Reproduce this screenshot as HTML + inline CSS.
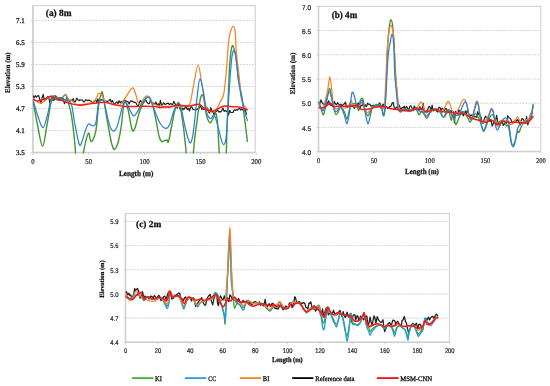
<!DOCTYPE html><html><head><meta charset="utf-8"><style>html,body{margin:0;padding:0;background:#fff;}svg{display:block;will-change:transform;}text{text-rendering:geometricPrecision;}</style></head><body>
<svg width="550" height="386" viewBox="0 0 550 386">
<rect width="550" height="386" fill="#fff"/>
<defs>
<clipPath id="ca"><rect x="32.9" y="5.6" width="222.3" height="148.0"/></clipPath>
</defs>
<rect x="32.9" y="5.6" width="222.3" height="147.0" fill="none" stroke="#d4d4d4" stroke-width="1.2"/>
<line x1="32.9" y1="20.4" x2="255.2" y2="20.4" stroke="#d0d0d0" stroke-width="1" stroke-dasharray="1.8 1.2"/>
<line x1="32.9" y1="42.4" x2="255.2" y2="42.4" stroke="#d0d0d0" stroke-width="1" stroke-dasharray="1.8 1.2"/>
<line x1="32.9" y1="64.5" x2="255.2" y2="64.5" stroke="#d0d0d0" stroke-width="1" stroke-dasharray="1.8 1.2"/>
<line x1="32.9" y1="86.5" x2="255.2" y2="86.5" stroke="#d0d0d0" stroke-width="1" stroke-dasharray="1.8 1.2"/>
<line x1="32.9" y1="108.5" x2="255.2" y2="108.5" stroke="#d0d0d0" stroke-width="1" stroke-dasharray="1.8 1.2"/>
<line x1="32.9" y1="130.6" x2="255.2" y2="130.6" stroke="#d0d0d0" stroke-width="1" stroke-dasharray="1.8 1.2"/>
<line x1="30.8" y1="20.4" x2="32.9" y2="20.4" stroke="#cfcfcf" stroke-width="1"/>
<text x="16.1" y="22.9" font-family="Liberation Serif, serif" font-size="7.30" textLength="8.8" lengthAdjust="spacingAndGlyphs" fill="#1a1a1a" stroke="#1a1a1a" stroke-width="0.30">7.1</text>
<line x1="30.8" y1="42.4" x2="32.9" y2="42.4" stroke="#cfcfcf" stroke-width="1"/>
<text x="16.1" y="45.0" font-family="Liberation Serif, serif" font-size="7.30" textLength="8.8" lengthAdjust="spacingAndGlyphs" fill="#1a1a1a" stroke="#1a1a1a" stroke-width="0.30">6.5</text>
<line x1="30.8" y1="64.5" x2="32.9" y2="64.5" stroke="#cfcfcf" stroke-width="1"/>
<text x="16.1" y="67.0" font-family="Liberation Serif, serif" font-size="7.30" textLength="8.8" lengthAdjust="spacingAndGlyphs" fill="#1a1a1a" stroke="#1a1a1a" stroke-width="0.30">5.9</text>
<line x1="30.8" y1="86.5" x2="32.9" y2="86.5" stroke="#cfcfcf" stroke-width="1"/>
<text x="16.1" y="89.0" font-family="Liberation Serif, serif" font-size="7.30" textLength="8.8" lengthAdjust="spacingAndGlyphs" fill="#1a1a1a" stroke="#1a1a1a" stroke-width="0.30">5.3</text>
<line x1="30.8" y1="108.5" x2="32.9" y2="108.5" stroke="#cfcfcf" stroke-width="1"/>
<text x="16.1" y="111.1" font-family="Liberation Serif, serif" font-size="7.30" textLength="8.8" lengthAdjust="spacingAndGlyphs" fill="#1a1a1a" stroke="#1a1a1a" stroke-width="0.30">4.7</text>
<line x1="30.8" y1="130.6" x2="32.9" y2="130.6" stroke="#cfcfcf" stroke-width="1"/>
<text x="16.1" y="133.1" font-family="Liberation Serif, serif" font-size="7.30" textLength="8.8" lengthAdjust="spacingAndGlyphs" fill="#1a1a1a" stroke="#1a1a1a" stroke-width="0.30">4.1</text>
<line x1="30.8" y1="152.6" x2="32.9" y2="152.6" stroke="#cfcfcf" stroke-width="1"/>
<text x="16.1" y="155.1" font-family="Liberation Serif, serif" font-size="7.30" textLength="8.8" lengthAdjust="spacingAndGlyphs" fill="#1a1a1a" stroke="#1a1a1a" stroke-width="0.30">3.5</text>
<line x1="32.9" y1="152.6" x2="32.9" y2="154.6" stroke="#cfcfcf" stroke-width="1"/>
<text x="31.2" y="163.6" font-family="Liberation Serif, serif" font-size="7.40" textLength="3.4" lengthAdjust="spacingAndGlyphs" fill="#1a1a1a" stroke="#1a1a1a" stroke-width="0.20">0</text>
<line x1="88.8" y1="152.6" x2="88.8" y2="154.6" stroke="#cfcfcf" stroke-width="1"/>
<text x="85.3" y="163.6" font-family="Liberation Serif, serif" font-size="7.40" textLength="6.8" lengthAdjust="spacingAndGlyphs" fill="#1a1a1a" stroke="#1a1a1a" stroke-width="0.20">50</text>
<line x1="144.6" y1="152.6" x2="144.6" y2="154.6" stroke="#cfcfcf" stroke-width="1"/>
<text x="139.5" y="163.6" font-family="Liberation Serif, serif" font-size="7.40" textLength="10.2" lengthAdjust="spacingAndGlyphs" fill="#1a1a1a" stroke="#1a1a1a" stroke-width="0.20">100</text>
<line x1="200.5" y1="152.6" x2="200.5" y2="154.6" stroke="#cfcfcf" stroke-width="1"/>
<text x="195.4" y="163.6" font-family="Liberation Serif, serif" font-size="7.40" textLength="10.2" lengthAdjust="spacingAndGlyphs" fill="#1a1a1a" stroke="#1a1a1a" stroke-width="0.20">150</text>
<line x1="256.3" y1="152.6" x2="256.3" y2="154.6" stroke="#cfcfcf" stroke-width="1"/>
<text x="251.2" y="163.6" font-family="Liberation Serif, serif" font-size="7.40" textLength="10.2" lengthAdjust="spacingAndGlyphs" fill="#1a1a1a" stroke="#1a1a1a" stroke-width="0.20">200</text>
<line x1="32.9" y1="5.6" x2="32.9" y2="152.6" stroke="#cfcfcf" stroke-width="1.5"/>
<line x1="32.9" y1="152.6" x2="255.2" y2="152.6" stroke="#cfcfcf" stroke-width="1.5"/>
<text x="119.0" y="176.4" font-family="Liberation Serif, serif" font-size="7.80" font-weight="bold" textLength="34.4" lengthAdjust="spacingAndGlyphs" fill="#111" stroke="#111" stroke-width="0.25">Length (m)</text>
<text transform="translate(9.5 92.9) rotate(-90)" x="0" y="0" font-family="Liberation Serif, serif" font-size="7.30" font-weight="bold" textLength="40.5" lengthAdjust="spacingAndGlyphs" fill="#111" stroke="#111" stroke-width="0.20">Elevation (m)</text>
<text x="45.8" y="16.0" font-family="Liberation Serif, serif" font-size="9.60" font-weight="bold" textLength="25.8" lengthAdjust="spacingAndGlyphs" fill="#0d0d0d" stroke="#0d0d0d" stroke-width="0.25">(a) 8m</text>
<path d="M33.1 95.7 L34.2 97.8 L35.3 95.7 L36.5 97.2 L37.6 95.9 L38.7 95.6 L39.8 99.8 L40.9 103.3 L42.0 98.0 L43.2 94.4 L44.3 100.4 L45.4 99.8 L46.5 99.0 L47.6 96.8 L48.7 97.1 L49.9 103.3 L51.0 99.0 L52.1 97.3 L53.2 100.5 L54.3 99.9 L55.4 95.9 L56.6 97.0 L57.7 99.6 L58.8 99.2 L59.9 97.7 L61.0 98.0 L62.1 98.4 L63.3 98.9 L64.4 103.6 L65.5 101.6 L66.6 98.0 L67.7 98.2 L68.8 100.4 L70.0 101.0 L71.1 99.9 L72.2 100.6 L73.3 98.6 L74.4 102.2 L75.5 101.4 L76.7 98.2 L77.8 99.6 L78.9 100.7 L80.0 99.7 L81.1 100.2 L82.2 99.8 L83.4 101.7 L84.5 101.8 L85.6 99.7 L86.7 100.1 L87.8 100.6 L89.0 100.0 L90.1 100.8 L91.2 101.2 L92.3 103.6 L93.4 102.4 L94.5 100.7 L95.7 100.0 L96.8 102.7 L97.9 98.9 L99.0 101.9 L100.1 100.0 L101.2 99.7 L102.4 100.1 L103.5 99.7 L104.6 101.5 L105.7 101.1 L106.8 101.4 L107.9 101.3 L109.1 100.7 L110.2 99.1 L111.3 102.2 L112.4 100.6 L113.5 103.1 L114.6 104.6 L115.8 102.7 L116.9 101.8 L118.0 103.7 L119.1 100.7 L120.2 102.8 L121.3 101.4 L122.5 102.9 L123.6 101.1 L124.7 100.0 L125.8 100.8 L126.9 101.5 L128.0 101.7 L129.2 104.0 L130.3 101.1 L131.4 100.8 L132.5 101.4 L133.6 102.3 L134.7 102.2 L135.9 102.8 L137.0 105.0 L138.1 106.4 L139.2 103.0 L140.3 100.4 L141.4 102.1 L142.6 101.6 L143.7 102.6 L144.8 100.9 L145.9 100.3 L147.0 102.4 L148.2 103.6 L149.3 103.7 L150.4 100.4 L151.5 102.0 L152.6 103.4 L153.7 103.2 L154.9 104.4 L156.0 102.0 L157.1 105.3 L158.2 103.8 L159.3 106.3 L160.4 100.4 L161.6 105.3 L162.7 104.2 L163.8 102.7 L164.9 104.5 L166.0 104.1 L167.1 103.3 L168.3 103.1 L169.4 104.7 L170.5 103.6 L171.6 104.1 L172.7 104.6 L173.8 101.4 L175.0 103.5 L176.1 106.5 L177.2 108.2 L178.3 103.6 L179.4 107.2 L180.5 110.1 L181.7 110.2 L182.8 108.1 L183.9 109.6 L185.0 107.6 L186.1 106.6 L187.2 109.5 L188.4 108.2 L189.5 110.9 L190.6 107.5 L191.7 106.8 L192.8 109.2 L193.9 109.6 L195.1 109.8 L196.2 109.7 L197.3 108.9 L198.4 109.1 L199.5 107.0 L200.6 105.8 L201.8 109.4 L202.9 108.7 L204.0 109.7 L205.1 107.2 L206.2 109.2 L207.4 107.9 L208.5 111.8 L209.6 113.0 L210.7 107.7 L211.8 110.4 L212.9 112.2 L214.1 114.7 L215.2 112.0 L216.3 111.4 L217.4 108.9 L218.5 112.0 L219.6 111.6 L220.8 111.9 L221.9 110.4 L223.0 108.1 L224.1 111.3 L225.2 110.5 L226.3 111.6 L227.5 110.5 L228.6 115.2 L229.7 110.4 L230.8 112.5 L231.9 112.5 L233.0 112.5 L234.2 109.7 L235.3 110.4 L236.4 109.7 L237.5 110.1 L238.6 109.0 L239.7 108.4 L240.9 110.1 L242.0 108.8 L243.1 110.2 L244.2 108.5 L245.3 109.8 L246.4 114.1" fill="none" stroke="#222" stroke-width="1.20" stroke-linejoin="round" stroke-linecap="round" clip-path="url(#ca)"/>
<path d="M33.1 101.0 C33.8 105.0 35.9 117.4 37.5 125.0 C39.1 132.6 41.0 146.4 42.6 146.4 C44.2 146.4 45.6 132.1 47.0 125.0 C48.4 117.9 49.7 108.0 50.8 103.6 C51.9 99.2 52.5 99.1 53.4 98.4 C54.3 97.7 54.8 99.0 56.0 99.3 C57.2 99.6 58.8 101.0 60.4 100.2 C62.0 99.4 64.2 94.0 65.6 94.7 C67.0 95.5 68.0 101.5 68.9 104.7 C69.8 107.9 70.4 109.6 71.2 114.0 C72.0 118.4 72.9 125.6 73.6 131.1 C74.2 136.5 74.6 141.9 75.1 146.7 C75.6 151.5 75.3 157.8 76.5 160.0 C77.7 162.2 81.1 161.2 82.3 160.0 C83.5 158.8 82.9 155.6 83.4 152.9 C83.9 150.2 84.5 146.6 85.2 143.6 C85.9 140.6 86.9 136.7 87.6 135.0 C88.2 133.3 88.6 132.5 89.1 133.5 C89.6 134.5 90.0 140.2 90.7 141.2 C91.4 142.2 92.2 141.1 93.0 139.7 C93.8 138.3 94.8 135.4 95.4 132.7 C96.1 130.0 96.4 127.7 96.9 123.3 C97.4 118.9 97.8 111.2 98.5 106.2 C99.2 101.2 100.5 95.1 101.3 93.2 C102.0 91.3 102.1 90.9 103.0 95.0 C103.9 99.1 105.6 111.3 106.7 117.6 C107.8 123.9 108.7 128.7 109.5 133.0 C110.3 137.3 111.0 141.0 111.6 143.4 C112.2 145.8 112.5 146.6 113.0 147.6 C113.5 148.6 113.7 149.6 114.3 149.5 C114.9 149.4 115.8 148.3 116.5 146.8 C117.2 145.3 117.8 143.8 118.6 140.5 C119.4 137.2 120.4 132.3 121.2 126.7 C122.0 121.1 122.8 111.0 123.4 107.0 C124.0 103.0 124.2 103.3 124.6 102.5 C125.0 101.7 125.1 100.4 125.8 102.0 C126.5 103.6 127.9 108.8 128.6 112.0 C129.3 115.2 129.7 118.2 130.2 121.0 C130.7 123.8 131.3 126.8 131.8 128.5 C132.3 130.2 132.4 131.5 133.0 131.2 C133.6 130.9 134.2 130.2 135.4 126.7 C136.6 123.2 138.2 114.9 139.9 110.4 C141.6 105.9 143.9 101.8 145.4 99.5 C146.9 97.2 147.8 95.9 149.0 96.8 C150.2 97.7 151.4 100.8 152.6 104.9 C153.8 109.0 155.1 116.1 156.2 121.2 C157.2 126.3 158.0 132.3 158.9 135.7 C159.8 139.1 160.8 140.8 161.6 141.6 C162.4 142.4 163.0 141.1 163.9 140.8 C164.8 140.5 166.2 139.9 167.0 140.0 C167.8 140.1 167.7 143.9 168.5 141.6 C169.3 139.3 170.5 131.2 171.6 126.0 C172.7 120.8 173.8 114.4 174.8 110.5 C175.9 106.6 177.0 103.5 177.9 102.8 C178.8 102.1 179.3 102.7 180.2 106.6 C181.1 110.5 182.4 119.4 183.3 126.0 C184.2 132.6 184.9 140.5 185.6 146.2 C186.2 151.9 186.1 157.7 187.2 160.0 C188.3 162.3 190.9 163.8 192.2 160.0 C193.5 156.2 193.9 144.6 194.9 136.9 C195.9 129.2 197.1 120.1 198.0 113.6 C198.9 107.1 199.8 101.1 200.6 98.0 C201.4 94.9 202.1 94.1 202.8 95.0 C203.5 95.9 203.9 99.8 204.6 103.4 C205.3 107.1 205.9 113.7 206.9 116.9 C207.9 120.1 209.2 122.7 210.3 122.8 C211.4 122.9 212.5 119.2 213.4 117.7 C214.3 116.2 215.3 112.5 216.0 113.5 C216.7 114.5 217.0 116.7 217.6 123.6 C218.2 130.5 218.9 148.6 219.3 155.0 C219.8 161.4 219.3 160.8 220.3 162.0 C221.3 163.2 224.2 163.2 225.2 162.0 C226.2 160.8 225.9 161.4 226.2 155.0 C226.5 148.6 226.8 136.1 227.2 123.6 C227.6 111.1 228.4 91.1 228.9 80.0 C229.4 68.9 229.7 62.8 230.3 57.1 C230.9 51.4 231.6 46.2 232.4 45.6 C233.2 45.0 234.5 50.4 235.3 53.7 C236.1 57.0 236.4 61.1 237.0 65.5 C237.6 69.9 237.8 74.3 238.7 80.0 C239.6 85.7 241.4 93.7 242.3 99.8 C243.2 105.9 243.6 110.9 244.3 116.4 C245.0 121.9 245.9 128.8 246.4 133.0 C246.9 137.2 247.2 139.9 247.4 141.3" fill="none" stroke="#43952d" stroke-width="1.40" stroke-linejoin="round" stroke-linecap="round" clip-path="url(#ca)"/>
<path d="M33.1 98.6 C33.8 99.1 36.0 101.0 37.3 101.8 C38.6 102.6 39.7 103.3 40.9 103.2 C42.1 103.1 42.8 102.1 44.5 100.9 C46.2 99.7 49.4 96.6 50.9 95.9 C52.4 95.2 52.1 96.2 53.6 96.8 C55.1 97.4 57.6 99.0 60.0 99.5 C62.4 100.0 66.1 99.2 68.2 99.5 C70.3 99.8 71.2 100.6 72.7 101.4 C74.2 102.2 75.2 104.1 77.3 104.5 C79.3 104.9 82.4 104.4 85.0 104.0 C87.6 103.6 91.0 103.0 93.0 102.0 C95.0 101.0 95.8 99.2 96.7 97.7 C97.6 96.2 97.7 93.5 98.6 93.2 C99.5 92.9 101.2 94.6 102.2 95.9 C103.2 97.2 103.6 100.0 104.9 101.3 C106.2 102.6 108.3 103.0 110.0 103.5 C111.7 104.0 113.3 104.3 115.0 104.5 C116.7 104.7 118.3 106.0 120.0 104.9 C121.7 103.8 123.4 100.5 125.4 97.7 C127.4 94.9 130.3 89.5 131.8 88.3 C133.3 87.1 133.4 88.1 134.5 90.4 C135.6 92.7 137.0 99.9 138.1 102.2 C139.2 104.5 139.7 104.8 140.8 104.0 C141.9 103.2 143.4 99.0 144.5 97.7 C145.6 96.4 146.3 95.8 147.2 95.9 C148.1 96.1 148.8 97.2 149.9 98.6 C151.0 99.9 151.8 102.8 153.5 104.0 C155.2 105.2 157.2 105.6 160.0 106.0 C162.8 106.4 166.7 106.3 170.0 106.4 C173.3 106.5 177.3 106.7 180.0 106.5 C182.7 106.3 184.3 106.0 186.0 105.5 C187.7 105.0 188.7 106.8 190.0 103.4 C191.3 100.0 192.2 91.7 193.6 85.3 C194.9 78.9 196.7 65.1 198.1 65.1 C199.5 65.1 200.9 78.9 202.1 85.3 C203.3 91.7 204.5 99.5 205.3 103.4 C206.1 107.3 206.3 107.5 207.1 108.9 C207.9 110.3 209.0 111.3 210.1 111.8 C211.2 112.3 212.3 112.2 213.4 111.8 C214.5 111.4 215.7 111.0 216.8 109.3 C217.9 107.6 219.1 104.2 220.2 101.8 C221.3 99.4 222.6 98.6 223.5 95.0 C224.4 91.4 224.9 85.2 225.5 80.0 C226.1 74.8 226.4 70.1 226.9 63.8 C227.4 57.4 228.0 47.2 228.6 41.9 C229.2 36.6 229.5 34.9 230.3 32.2 C231.1 29.6 232.5 26.0 233.3 26.0 C234.1 26.0 234.7 28.4 235.2 32.2 C235.7 36.0 235.7 43.2 236.1 48.7 C236.5 54.2 237.2 60.3 237.8 65.5 C238.4 70.7 238.9 74.6 239.5 80.0 C240.1 85.4 240.4 93.5 241.2 97.8 C242.0 102.1 243.4 104.3 244.3 106.0 C245.2 107.7 246.1 107.7 246.4 108.0" fill="none" stroke="#f4822a" stroke-width="1.25" stroke-linejoin="round" stroke-linecap="round" clip-path="url(#ca)"/>
<path d="M33.1 100.2 C33.8 102.7 35.9 110.4 37.5 115.0 C39.1 119.6 41.2 127.3 42.8 127.6 C44.4 127.9 45.7 121.6 47.0 117.0 C48.3 112.4 49.7 103.7 50.8 100.2 C51.9 96.7 52.9 96.4 53.8 95.8 C54.7 95.2 55.2 96.1 56.4 96.7 C57.6 97.3 59.2 98.7 61.2 99.3 C63.2 99.9 66.5 99.2 68.2 100.2 C70.0 101.2 70.7 101.8 71.7 105.4 C72.8 109.0 73.2 115.5 74.5 122.0 C75.8 128.5 78.0 141.2 79.3 144.4 C80.6 147.6 81.1 143.4 82.1 141.2 C83.1 139.0 84.2 133.9 85.2 131.1 C86.2 128.2 87.4 125.1 88.3 124.1 C89.2 123.1 89.8 124.6 90.7 124.9 C91.6 125.2 92.9 126.2 93.8 125.7 C94.7 125.2 95.3 125.6 96.1 121.8 C96.9 118.0 97.7 106.6 98.6 103.1 C99.5 99.6 100.4 101.1 101.3 100.9 C102.2 100.8 102.8 98.8 104.0 102.2 C105.2 105.6 107.2 116.5 108.5 121.2 C109.8 125.9 110.7 129.2 112.1 130.3 C113.5 131.4 114.9 131.8 116.7 127.6 C118.5 123.4 121.4 109.0 123.0 104.9 C124.6 100.8 125.1 102.2 126.3 103.1 C127.5 104.0 128.8 108.3 130.0 110.4 C131.2 112.5 132.4 115.5 133.6 115.8 C134.8 116.1 135.7 114.5 137.2 112.2 C138.7 109.9 140.9 104.7 142.6 102.2 C144.3 99.7 146.0 97.8 147.2 97.3 C148.4 96.8 148.7 96.5 150.0 99.0 C151.3 101.5 153.7 108.2 155.3 112.2 C157.0 116.2 158.2 120.3 159.9 123.0 C161.6 125.7 163.8 128.0 165.4 128.4 C167.0 128.8 167.9 128.3 169.3 125.3 C170.7 122.3 172.6 114.1 174.0 110.5 C175.4 106.9 176.7 104.0 177.9 103.5 C179.1 103.0 179.8 103.7 181.0 107.4 C182.2 111.2 183.4 120.2 184.8 126.0 C186.2 131.8 188.2 140.6 189.5 142.4 C190.8 144.2 191.7 140.9 192.6 136.9 C193.5 132.9 194.1 125.1 194.9 118.3 C195.7 111.5 196.4 102.8 197.2 96.2 C198.0 89.7 198.8 79.6 199.9 79.0 C201.0 78.4 202.6 88.0 203.5 92.6 C204.4 97.2 204.7 103.0 205.4 106.8 C206.1 110.6 206.7 113.2 207.6 115.2 C208.5 117.2 209.8 118.6 210.9 118.6 C212.0 118.6 213.0 113.5 214.3 115.2 C215.6 116.9 217.4 124.8 218.5 128.7 C219.6 132.6 220.2 136.0 221.0 138.7 C221.8 141.3 222.7 144.6 223.5 144.6 C224.3 144.6 225.3 143.6 226.0 138.7 C226.7 133.8 227.0 125.0 227.7 115.2 C228.3 105.4 229.2 89.7 229.9 80.0 C230.6 70.3 231.2 62.0 231.9 57.1 C232.6 52.2 233.3 50.1 234.0 50.4 C234.7 50.7 235.4 53.9 236.1 58.8 C236.8 63.7 237.5 73.8 238.3 80.0 C239.2 86.2 240.2 90.7 241.2 95.7 C242.2 100.7 243.3 106.1 244.3 110.2 C245.3 114.3 246.9 118.8 247.4 120.5" fill="none" stroke="#2f7fd6" stroke-width="1.25" stroke-linejoin="round" stroke-linecap="round" clip-path="url(#ca)"/>
<path d="M33.2 99.5 C33.9 99.7 35.9 100.8 37.3 100.9 C38.7 101.0 40.3 100.5 41.8 100.0 C43.3 99.5 45.0 98.8 46.4 98.2 C47.8 97.6 48.8 96.8 50.0 96.6 C51.2 96.4 52.1 96.8 53.6 97.3 C55.1 97.8 57.0 98.7 59.1 99.5 C61.2 100.3 64.1 101.5 66.4 102.3 C68.7 103.1 70.4 103.6 72.7 104.1 C75.0 104.6 77.8 105.1 80.0 105.2 C82.2 105.3 83.8 104.9 86.0 104.6 C88.2 104.3 89.9 103.8 93.1 103.4 C96.2 103.0 101.3 102.2 104.9 102.4 C108.5 102.7 111.6 104.2 114.9 104.9 C118.2 105.6 121.7 106.2 125.0 106.5 C128.3 106.8 131.7 106.4 135.0 106.4 C138.3 106.4 141.7 106.3 145.0 106.3 C148.3 106.3 152.7 106.4 155.0 106.6 C157.3 106.8 157.3 107.3 159.0 107.4 C160.7 107.5 163.2 107.0 165.0 107.0 C166.8 107.0 167.8 107.4 170.0 107.1 C172.2 106.8 174.9 105.1 177.9 104.9 C180.9 104.8 184.5 106.3 188.0 106.2 C191.5 106.1 196.0 103.8 198.8 104.3 C201.6 104.8 203.1 107.9 205.0 109.0 C206.9 110.1 208.6 110.4 210.0 110.7 C211.4 111.0 211.7 111.5 213.4 111.0 C215.1 110.5 218.2 108.4 220.2 107.6 C222.2 106.8 223.0 106.1 225.2 106.0 C227.4 105.9 231.1 106.6 233.6 106.8 C236.1 107.0 237.9 106.6 240.2 107.1 C242.5 107.6 246.2 109.3 247.4 109.8" fill="none" stroke="#f01a1a" stroke-width="1.45" stroke-linejoin="round" stroke-linecap="round" clip-path="url(#ca)"/>
<rect x="318.5" y="6.4" width="222.2" height="145.2" fill="none" stroke="#d4d4d4" stroke-width="1.1"/>
<line x1="318.5" y1="30.6" x2="540.7" y2="30.6" stroke="#d0d0d0" stroke-width="1" stroke-dasharray="1.8 1.2"/>
<line x1="318.5" y1="54.8" x2="540.7" y2="54.8" stroke="#d0d0d0" stroke-width="1" stroke-dasharray="1.8 1.2"/>
<line x1="318.5" y1="79.0" x2="540.7" y2="79.0" stroke="#d0d0d0" stroke-width="1" stroke-dasharray="1.8 1.2"/>
<line x1="318.5" y1="103.2" x2="540.7" y2="103.2" stroke="#d0d0d0" stroke-width="1" stroke-dasharray="1.8 1.2"/>
<line x1="318.5" y1="127.4" x2="540.7" y2="127.4" stroke="#d0d0d0" stroke-width="1" stroke-dasharray="1.8 1.2"/>
<line x1="316.4" y1="6.4" x2="318.5" y2="6.4" stroke="#cfcfcf" stroke-width="1"/>
<text x="302.0" y="9.6" font-family="Liberation Sans, sans-serif" font-size="6.90" textLength="9.1" lengthAdjust="spacingAndGlyphs" fill="#222" stroke="#222" stroke-width="0.20">7.0</text>
<line x1="316.4" y1="30.6" x2="318.5" y2="30.6" stroke="#cfcfcf" stroke-width="1"/>
<text x="302.0" y="33.8" font-family="Liberation Sans, sans-serif" font-size="6.90" textLength="9.1" lengthAdjust="spacingAndGlyphs" fill="#222" stroke="#222" stroke-width="0.20">6.5</text>
<line x1="316.4" y1="54.8" x2="318.5" y2="54.8" stroke="#cfcfcf" stroke-width="1"/>
<text x="302.0" y="58.0" font-family="Liberation Sans, sans-serif" font-size="6.90" textLength="9.1" lengthAdjust="spacingAndGlyphs" fill="#222" stroke="#222" stroke-width="0.20">6.0</text>
<line x1="316.4" y1="79.0" x2="318.5" y2="79.0" stroke="#cfcfcf" stroke-width="1"/>
<text x="302.0" y="82.2" font-family="Liberation Sans, sans-serif" font-size="6.90" textLength="9.1" lengthAdjust="spacingAndGlyphs" fill="#222" stroke="#222" stroke-width="0.20">5.5</text>
<line x1="316.4" y1="103.2" x2="318.5" y2="103.2" stroke="#cfcfcf" stroke-width="1"/>
<text x="302.0" y="106.4" font-family="Liberation Sans, sans-serif" font-size="6.90" textLength="9.1" lengthAdjust="spacingAndGlyphs" fill="#222" stroke="#222" stroke-width="0.20">5.0</text>
<line x1="316.4" y1="127.4" x2="318.5" y2="127.4" stroke="#cfcfcf" stroke-width="1"/>
<text x="302.0" y="130.6" font-family="Liberation Sans, sans-serif" font-size="6.90" textLength="9.1" lengthAdjust="spacingAndGlyphs" fill="#222" stroke="#222" stroke-width="0.20">4.5</text>
<line x1="316.4" y1="151.6" x2="318.5" y2="151.6" stroke="#cfcfcf" stroke-width="1"/>
<text x="302.0" y="154.8" font-family="Liberation Sans, sans-serif" font-size="6.90" textLength="9.1" lengthAdjust="spacingAndGlyphs" fill="#222" stroke="#222" stroke-width="0.20">4.0</text>
<line x1="318.5" y1="151.6" x2="318.5" y2="153.6" stroke="#cfcfcf" stroke-width="1"/>
<text x="316.9" y="162.6" font-family="Liberation Serif, serif" font-size="7.30" textLength="3.3" lengthAdjust="spacingAndGlyphs" fill="#1a1a1a" stroke="#1a1a1a" stroke-width="0.20">0</text>
<line x1="374.1" y1="151.6" x2="374.1" y2="153.6" stroke="#cfcfcf" stroke-width="1"/>
<text x="370.8" y="162.6" font-family="Liberation Serif, serif" font-size="7.30" textLength="6.6" lengthAdjust="spacingAndGlyphs" fill="#1a1a1a" stroke="#1a1a1a" stroke-width="0.20">50</text>
<line x1="429.7" y1="151.6" x2="429.7" y2="153.6" stroke="#cfcfcf" stroke-width="1"/>
<text x="424.8" y="162.6" font-family="Liberation Serif, serif" font-size="7.30" textLength="9.9" lengthAdjust="spacingAndGlyphs" fill="#1a1a1a" stroke="#1a1a1a" stroke-width="0.20">100</text>
<line x1="485.3" y1="151.6" x2="485.3" y2="153.6" stroke="#cfcfcf" stroke-width="1"/>
<text x="480.4" y="162.6" font-family="Liberation Serif, serif" font-size="7.30" textLength="9.9" lengthAdjust="spacingAndGlyphs" fill="#1a1a1a" stroke="#1a1a1a" stroke-width="0.20">150</text>
<line x1="540.9" y1="151.6" x2="540.9" y2="153.6" stroke="#cfcfcf" stroke-width="1"/>
<text x="536.0" y="162.6" font-family="Liberation Serif, serif" font-size="7.30" textLength="9.9" lengthAdjust="spacingAndGlyphs" fill="#1a1a1a" stroke="#1a1a1a" stroke-width="0.20">200</text>
<line x1="318.5" y1="6.4" x2="318.5" y2="151.6" stroke="#cfcfcf" stroke-width="1.5"/>
<line x1="318.5" y1="151.6" x2="540.7" y2="151.6" stroke="#cfcfcf" stroke-width="1.5"/>
<text x="405.0" y="173.6" font-family="Liberation Serif, serif" font-size="7.80" font-weight="bold" textLength="33.9" lengthAdjust="spacingAndGlyphs" fill="#111" stroke="#111" stroke-width="0.25">Length (m)</text>
<text transform="translate(295.0 94.3) rotate(-90)" x="0" y="0" font-family="Liberation Serif, serif" font-size="7.30" font-weight="bold" textLength="41.8" lengthAdjust="spacingAndGlyphs" fill="#111" stroke="#111" stroke-width="0.20">Elevation (m)</text>
<text x="331.7" y="17.5" font-family="Liberation Serif, serif" font-size="9.60" font-weight="bold" textLength="25.6" lengthAdjust="spacingAndGlyphs" fill="#0d0d0d" stroke="#0d0d0d" stroke-width="0.25">(b) 4m</text>
<defs><clipPath id="cb"><rect x="318.5" y="6.4" width="222.2" height="146.2"/></clipPath></defs>
<path d="M318.7 102.6 L319.8 103.9 L320.9 99.8 L322.0 102.4 L323.1 104.1 L324.3 104.2 L325.4 104.8 L326.5 105.1 L327.6 102.8 L328.7 100.8 L329.8 104.3 L330.9 105.2 L332.0 105.6 L333.2 106.8 L334.3 101.6 L335.4 103.7 L336.5 104.7 L337.6 102.6 L338.7 104.1 L339.8 105.5 L340.9 104.1 L342.1 106.4 L343.2 104.3 L344.3 104.0 L345.4 102.1 L346.5 107.7 L347.6 107.4 L348.7 106.5 L349.8 104.4 L350.9 106.4 L352.1 106.2 L353.2 105.9 L354.3 108.3 L355.4 107.3 L356.5 105.2 L357.6 103.8 L358.7 103.0 L359.8 109.0 L361.0 105.3 L362.1 105.8 L363.2 102.5 L364.3 107.7 L365.4 104.9 L366.5 106.5 L367.6 103.1 L368.7 104.3 L369.9 104.4 L371.0 106.3 L372.1 105.6 L373.2 105.3 L374.3 105.3 L375.4 106.5 L376.5 105.4 L377.6 106.5 L378.7 104.1 L379.9 102.9 L381.0 108.1 L382.1 105.5 L383.2 104.2 L384.3 107.1 L385.4 108.5 L386.5 106.5 L387.6 108.4 L388.8 108.4 L389.9 106.3 L391.0 106.1 L392.1 103.3 L393.2 102.4 L394.3 107.8 L395.4 108.8 L396.5 107.1 L397.7 108.3 L398.8 104.5 L399.9 107.3 L401.0 109.4 L402.1 107.5 L403.2 107.9 L404.3 106.2 L405.4 109.1 L406.5 106.3 L407.7 108.3 L408.8 110.9 L409.9 106.2 L411.0 105.8 L412.1 108.3 L413.2 110.8 L414.3 106.0 L415.4 108.6 L416.6 107.7 L417.7 109.2 L418.8 110.6 L419.9 106.6 L421.0 109.7 L422.1 109.9 L423.2 103.3 L424.3 112.0 L425.5 112.5 L426.6 111.4 L427.7 109.6 L428.8 106.7 L429.9 106.6 L431.0 111.8 L432.1 105.1 L433.2 111.0 L434.3 109.9 L435.5 109.6 L436.6 111.0 L437.7 112.0 L438.8 107.3 L439.9 107.3 L441.0 110.3 L442.1 108.1 L443.2 109.3 L444.4 111.0 L445.5 108.5 L446.6 108.9 L447.7 111.8 L448.8 109.8 L449.9 112.7 L451.0 110.3 L452.1 112.0 L453.3 111.5 L454.4 122.8 L455.5 111.4 L456.6 113.3 L457.7 113.9 L458.8 109.9 L459.9 111.2 L461.0 113.9 L462.1 111.5 L463.3 115.9 L464.4 113.5 L465.5 110.9 L466.6 113.7 L467.7 109.2 L468.8 114.5 L469.9 116.6 L471.0 114.8 L472.2 115.9 L473.3 114.6 L474.4 117.0 L475.5 116.9 L476.6 117.2 L477.7 111.6 L478.8 114.7 L479.9 115.1 L481.1 117.6 L482.2 123.0 L483.3 123.1 L484.4 118.7 L485.5 116.2 L486.6 117.9 L487.7 118.6 L488.8 118.6 L489.9 121.5 L491.1 120.2 L492.2 126.1 L493.3 123.7 L494.4 119.6 L495.5 120.9 L496.6 115.4 L497.7 121.5 L498.8 123.5 L500.0 125.1 L501.1 121.8 L502.2 120.9 L503.3 125.5 L504.4 123.8 L505.5 122.5 L506.6 123.2 L507.7 115.7 L508.9 117.7 L510.0 118.2 L511.1 119.9 L512.2 122.4 L513.3 122.0 L514.4 121.7 L515.5 119.6 L516.6 121.2 L517.7 119.5 L518.9 121.8 L520.0 125.1 L521.1 120.7 L522.2 118.4 L523.3 119.4 L524.4 121.4 L525.5 122.6 L526.6 116.6 L527.8 124.9 L528.9 121.1 L530.0 115.9 L531.1 113.3 L532.2 112.4" fill="none" stroke="#222" stroke-width="1.20" stroke-linejoin="round" stroke-linecap="round" clip-path="url(#cb)"/>
<path d="M318.7 103.7 C319.1 104.5 320.1 107.0 320.9 108.8 C321.7 110.6 322.6 115.3 323.4 114.7 C324.2 114.1 324.9 109.8 325.9 105.4 C326.9 101.1 328.3 89.7 329.3 88.6 C330.3 87.5 331.0 95.0 331.8 98.7 C332.6 102.4 333.7 107.8 334.4 110.5 C335.1 113.2 335.3 114.6 336.0 114.7 C336.7 114.8 337.9 112.6 338.6 111.3 C339.3 110.0 339.3 107.0 340.3 107.1 C341.3 107.2 343.4 110.1 344.5 112.1 C345.6 114.1 346.0 119.7 347.0 118.9 C348.0 118.1 349.0 109.6 350.4 107.1 C351.8 104.6 354.0 103.1 355.4 103.7 C356.8 104.3 358.0 110.9 358.8 110.5 C359.6 110.1 359.3 103.1 360.0 101.1 C360.7 99.1 362.0 97.4 362.8 98.7 C363.6 100.0 363.9 106.0 364.7 108.8 C365.5 111.6 366.9 115.3 367.8 115.8 C368.7 116.3 369.1 113.6 370.1 111.9 C371.1 110.2 372.6 106.9 374.0 105.7 C375.4 104.5 377.3 104.6 378.6 104.9 C379.9 105.2 380.9 105.5 381.7 107.3 C382.5 109.1 382.8 115.3 383.3 115.8 C383.8 116.3 384.3 115.5 384.8 110.4 C385.3 105.4 385.6 96.6 386.1 85.5 C386.6 74.4 387.2 53.8 387.8 43.7 C388.4 33.7 388.9 29.2 389.5 25.2 C390.1 21.2 390.6 19.5 391.1 19.8 C391.7 20.1 392.2 21.4 392.8 26.8 C393.4 32.2 394.1 44.9 394.5 52.1 C394.9 59.3 395.0 63.1 395.4 70.0 C395.8 76.9 396.4 86.7 397.0 93.3 C397.6 99.9 398.1 106.5 398.8 109.6 C399.5 112.7 400.2 112.0 401.1 111.9 C402.0 111.8 402.8 109.1 404.3 108.8 C405.8 108.5 408.1 110.3 410.0 110.3 C411.9 110.3 414.1 108.6 415.4 109.0 C416.7 109.4 417.4 111.8 418.0 112.8 C418.6 113.8 418.7 115.0 419.2 114.8 C419.7 114.6 420.5 112.0 421.2 111.6 C421.9 111.2 422.2 111.1 423.1 112.2 C424.0 113.3 425.5 117.3 426.4 118.0 C427.3 118.7 427.6 117.2 428.3 116.1 C429.1 115.0 429.6 112.8 430.9 111.6 C432.2 110.4 434.6 108.9 436.1 109.0 C437.6 109.1 438.9 110.9 440.0 112.2 C441.1 113.5 441.9 116.1 442.6 116.7 C443.4 117.3 443.9 117.1 444.5 116.1 C445.1 115.1 445.8 111.8 446.5 110.9 C447.2 110.1 448.0 109.5 448.8 111.0 C449.6 112.5 450.4 119.6 451.1 120.2 C451.8 120.8 452.4 113.8 453.2 114.5 C454.0 115.2 454.8 123.8 455.7 124.5 C456.6 125.2 457.7 120.6 458.6 118.7 C459.5 116.8 460.1 114.4 461.0 113.3 C461.9 112.2 462.8 111.1 464.0 112.0 C465.2 112.9 467.1 116.8 468.1 118.5 C469.1 120.2 469.3 122.5 470.1 122.4 C470.9 122.3 471.8 119.3 472.7 117.8 C473.6 116.3 474.3 113.3 475.3 113.3 C476.3 113.3 477.5 116.0 478.5 117.8 C479.5 119.6 480.3 122.1 481.1 124.3 C481.9 126.5 482.6 130.6 483.4 131.2 C484.1 131.8 484.7 129.6 485.6 127.6 C486.5 125.6 487.8 121.3 488.9 119.1 C490.0 116.9 491.1 114.7 492.1 114.6 C493.1 114.5 493.8 116.8 494.7 118.5 C495.6 120.2 496.7 123.8 497.3 124.6 C497.9 125.3 497.5 123.7 498.1 123.0 C498.8 122.3 500.2 120.9 501.2 120.6 C502.2 120.3 503.4 120.5 504.3 121.4 C505.2 122.3 506.0 125.4 506.6 126.1 C507.2 126.8 507.7 124.0 508.2 125.3 C508.7 126.6 509.3 130.8 509.8 133.8 C510.3 136.8 510.8 141.2 511.3 143.1 C511.8 145.0 512.2 145.9 512.9 145.5 C513.5 145.1 514.4 143.1 515.2 140.8 C516.0 138.5 516.9 132.9 517.5 131.5 C518.1 130.1 518.6 132.8 519.1 132.3 C519.6 131.8 520.0 129.8 520.6 128.4 C521.2 127.0 522.1 124.8 523.0 123.7 C523.9 122.6 524.7 122.9 526.0 122.0 C527.3 121.1 529.7 120.3 530.7 118.3 C531.8 116.3 531.9 112.3 532.3 110.0 C532.7 107.7 532.9 105.4 533.0 104.5" fill="none" stroke="#43952d" stroke-width="1.30" stroke-linejoin="round" stroke-linecap="round" clip-path="url(#cb)"/>
<path d="M318.7 103.7 C319.4 104.5 321.1 111.0 322.6 108.8 C324.1 106.6 326.4 95.6 327.6 90.3 C328.8 85.0 329.1 76.8 329.8 76.8 C330.5 76.8 331.2 85.5 331.8 90.3 C332.4 95.1 332.8 102.3 333.5 105.4 C334.2 108.5 334.9 108.4 336.0 108.8 C337.1 109.2 338.8 108.1 340.3 107.9 C341.9 107.8 343.9 108.3 345.3 107.9 C346.7 107.5 347.7 106.7 348.7 105.4 C349.7 104.2 350.5 100.4 351.2 100.4 C351.9 100.4 351.9 104.3 352.9 105.4 C353.9 106.5 355.9 107.2 357.1 107.1 C358.3 107.0 359.1 105.7 360.0 104.9 C360.9 104.2 361.5 101.9 362.3 102.6 C363.1 103.2 363.8 107.1 364.7 108.8 C365.6 110.5 366.8 112.7 367.8 112.7 C368.8 112.7 369.6 109.8 370.9 108.8 C372.2 107.8 373.7 106.8 375.5 106.5 C377.3 106.2 380.3 107.0 381.7 107.3 C383.1 107.5 383.5 110.3 384.1 108.0 C384.7 105.7 384.9 98.8 385.2 93.3 C385.5 87.8 385.8 81.6 386.1 75.0 C386.4 68.4 386.5 60.4 386.9 53.8 C387.3 47.2 388.0 40.1 388.6 35.3 C389.2 30.5 390.0 24.9 390.8 25.2 C391.6 25.5 393.1 32.1 393.7 36.9 C394.3 41.7 394.2 47.4 394.5 53.8 C394.8 60.1 394.9 68.4 395.4 75.0 C395.9 81.6 396.7 87.8 397.3 93.3 C397.9 98.8 398.2 105.2 398.8 108.0 C399.4 110.8 400.0 109.5 401.0 110.0 C402.0 110.5 403.5 110.9 405.0 110.9 C406.5 111.0 408.5 110.5 410.2 110.3 C411.9 110.1 413.9 110.6 415.4 109.6 C416.9 108.6 418.2 105.7 419.2 104.4 C420.2 103.1 420.5 101.6 421.2 101.8 C421.9 102.0 422.5 104.0 423.1 105.7 C423.8 107.4 424.5 111.0 425.1 112.2 C425.8 113.4 426.0 113.1 427.0 112.8 C428.0 112.5 429.4 110.9 430.9 110.3 C432.4 109.7 434.6 108.9 436.1 109.0 C437.6 109.1 438.9 110.4 440.0 110.9 C441.1 111.4 441.8 112.7 442.6 112.2 C443.4 111.7 443.9 109.5 444.8 107.7 C445.7 105.9 447.2 101.9 448.1 101.4 C449.0 100.9 449.3 103.0 450.0 104.6 C450.7 106.2 451.5 109.7 452.2 111.0 C452.9 112.3 453.6 112.4 454.3 112.6 C455.0 112.8 455.6 113.3 456.5 112.3 C457.4 111.2 459.1 107.8 459.8 106.3 C460.6 104.8 460.4 104.2 461.0 103.0 C461.6 101.8 462.9 99.6 463.6 99.3 C464.4 99.0 464.9 99.5 465.5 101.0 C466.1 102.5 466.9 105.6 467.5 108.1 C468.1 110.6 468.6 114.2 469.4 115.9 C470.1 117.6 471.1 119.8 472.0 118.5 C472.9 117.2 473.8 111.0 474.6 108.1 C475.4 105.2 476.0 101.4 476.6 101.0 C477.2 100.6 477.9 102.6 478.5 105.5 C479.1 108.4 479.8 115.7 480.4 118.5 C481.0 121.3 481.6 122.0 482.4 122.4 C483.2 122.8 484.0 122.2 485.0 121.1 C486.0 120.0 487.2 117.9 488.2 115.9 C489.2 114.0 490.2 110.6 490.8 109.4 C491.4 108.2 491.3 108.2 491.7 108.8 C492.1 109.4 492.8 111.0 493.4 113.3 C494.0 115.6 494.6 120.2 495.3 122.4 C496.1 124.6 497.1 126.3 497.9 126.3 C498.7 126.3 498.9 123.4 500.0 122.4 C501.1 121.5 503.1 120.8 504.3 120.6 C505.5 120.4 506.4 120.8 507.4 121.4 C508.4 122.1 509.5 124.2 510.5 124.5 C511.5 124.8 512.7 123.9 513.6 123.0 C514.5 122.1 515.4 120.1 516.0 119.1 C516.6 118.0 516.9 116.5 517.5 116.7 C518.1 117.0 518.9 119.4 519.8 120.6 C520.7 121.8 522.0 123.8 523.0 123.7 C524.0 123.6 525.1 120.7 526.1 119.8 C527.1 118.9 528.2 119.8 529.2 118.3 C530.2 116.8 531.7 112.3 532.3 110.5 C532.9 108.7 532.9 107.9 533.0 107.4" fill="none" stroke="#f4822a" stroke-width="1.25" stroke-linejoin="round" stroke-linecap="round" clip-path="url(#cb)"/>
<path d="M318.7 101.2 C319.1 102.2 320.1 105.5 320.9 107.1 C321.7 108.6 322.4 111.9 323.4 110.5 C324.4 109.1 325.8 101.8 326.8 98.7 C327.8 95.6 328.5 91.9 329.3 91.9 C330.1 91.9 331.0 95.8 331.8 98.7 C332.6 101.7 333.5 107.5 334.4 109.6 C335.2 111.7 336.1 111.7 336.9 111.3 C337.7 110.9 338.6 107.5 339.4 107.1 C340.2 106.7 341.0 107.4 341.9 108.8 C342.8 110.2 343.6 113.0 344.5 115.5 C345.4 118.0 346.2 124.2 347.0 123.6 C347.8 123.0 348.7 117.2 349.5 112.1 C350.3 107.0 351.1 95.3 352.0 92.8 C352.9 90.3 353.8 94.6 354.6 97.0 C355.5 99.4 356.2 106.0 357.1 107.1 C358.0 108.2 359.1 104.5 360.0 103.4 C360.9 102.3 361.5 99.1 362.3 100.3 C363.1 101.5 363.8 106.5 364.7 110.4 C365.6 114.3 366.9 122.6 367.8 123.6 C368.7 124.6 369.3 119.3 370.1 116.6 C370.9 113.9 371.5 109.1 372.4 107.3 C373.3 105.5 374.5 106.0 375.5 105.7 C376.5 105.4 377.6 105.2 378.6 105.7 C379.6 106.2 380.9 107.2 381.7 108.8 C382.5 110.3 382.8 114.7 383.3 115.0 C383.8 115.3 384.3 115.3 384.8 110.4 C385.3 105.5 385.9 93.8 386.4 85.5 C386.9 77.2 387.4 66.6 387.8 60.5 C388.2 54.4 388.6 51.8 389.0 48.7 C389.4 45.6 389.8 44.4 390.3 42.0 C390.8 39.6 391.4 34.1 392.0 34.4 C392.6 34.7 393.2 36.9 393.7 43.7 C394.2 50.5 394.3 66.7 394.8 75.0 C395.3 83.3 396.0 87.7 396.5 93.3 C397.0 98.9 397.4 105.8 398.0 108.8 C398.6 111.8 399.5 111.1 400.4 111.1 C401.3 111.1 402.5 109.0 403.5 108.8 C404.5 108.5 405.5 109.1 406.6 109.6 C407.7 110.0 408.5 111.6 410.0 111.5 C411.5 111.4 413.9 109.1 415.4 109.0 C416.9 108.9 417.9 110.3 419.2 110.9 C420.5 111.5 421.9 111.9 423.1 112.8 C424.3 113.7 425.4 116.0 426.4 116.1 C427.4 116.2 428.0 114.5 429.0 113.5 C430.0 112.5 431.0 111.0 432.2 110.3 C433.4 109.5 434.8 108.9 436.1 109.0 C437.4 109.1 438.9 109.7 440.0 110.9 C441.1 112.1 441.9 115.1 442.6 116.1 C443.4 117.1 443.8 117.2 444.5 116.7 C445.2 116.2 446.2 113.9 447.1 112.8 C448.0 111.7 448.8 109.6 449.7 110.3 C450.6 111.0 451.6 116.4 452.6 117.2 C453.6 118.0 454.7 115.7 455.8 115.3 C456.9 114.9 458.0 116.0 459.1 114.6 C460.2 113.2 461.3 108.9 462.3 106.8 C463.3 104.7 464.1 102.1 464.9 101.7 C465.6 101.3 466.1 102.1 466.8 104.2 C467.5 106.3 468.2 112.0 468.8 114.6 C469.4 117.2 470.1 119.6 470.7 119.8 C471.3 120.0 471.9 118.1 472.7 115.9 C473.5 113.7 474.6 109.1 475.3 106.8 C476.1 104.5 476.6 101.9 477.2 102.3 C477.8 102.7 478.5 105.8 479.1 109.4 C479.8 113.0 480.5 120.2 481.1 123.7 C481.8 127.2 482.4 129.4 483.0 130.2 C483.6 130.9 484.2 129.9 485.0 128.2 C485.8 126.5 486.7 122.5 487.6 119.8 C488.5 117.1 489.6 113.8 490.2 112.0 C490.8 110.2 491.0 109.2 491.5 109.2 C492.0 109.2 492.8 109.4 493.4 112.0 C494.0 114.6 494.6 122.0 495.3 125.0 C496.0 128.0 496.6 129.8 497.3 130.0 C498.0 130.2 498.8 127.8 499.7 126.1 C500.6 124.4 501.8 121.1 502.8 119.8 C503.8 118.5 505.0 117.9 505.9 118.0 C506.8 118.1 507.5 118.5 508.2 120.6 C508.9 122.7 509.3 127.2 509.8 130.7 C510.3 134.2 510.7 138.9 511.3 141.6 C511.9 144.3 512.6 147.0 513.3 147.0 C513.9 147.0 514.5 144.6 515.2 141.6 C515.9 138.6 516.7 132.0 517.5 129.2 C518.3 126.3 518.9 125.7 519.8 124.5 C520.7 123.3 522.0 122.6 523.0 122.2 C524.0 121.8 525.1 122.5 526.1 122.2 C527.1 121.9 528.3 121.5 529.2 120.6 C530.1 119.7 531.0 118.4 531.5 116.7 C532.0 115.0 532.0 112.3 532.3 110.5 C532.5 108.7 532.9 106.7 533.0 105.9" fill="none" stroke="#2f7fd6" stroke-width="1.25" stroke-linejoin="round" stroke-linecap="round" clip-path="url(#cb)"/>
<path d="M318.7 107.9 C319.8 107.8 323.2 107.9 325.1 107.1 C327.0 106.3 328.8 103.1 330.2 102.9 C331.6 102.8 331.8 105.7 333.5 106.2 C335.2 106.8 337.8 106.2 340.3 106.2 C342.8 106.2 345.9 106.3 348.7 106.2 C351.5 106.1 355.2 105.0 357.1 105.4 C359.0 105.8 358.7 108.1 360.0 108.8 C361.3 109.5 363.1 109.6 364.7 109.6 C366.2 109.6 367.5 109.2 369.3 108.8 C371.1 108.4 373.6 107.7 375.5 107.3 C377.4 106.9 379.2 106.5 381.0 106.5 C382.8 106.5 384.7 106.9 386.4 107.3 C388.1 107.7 389.2 108.4 391.0 108.8 C392.8 109.2 395.2 109.3 397.3 109.6 C399.4 109.9 401.4 110.2 403.5 110.4 C405.6 110.6 407.2 110.9 410.0 110.6 C412.8 110.2 417.9 108.1 420.5 108.3 C423.1 108.5 424.0 111.3 425.7 111.6 C427.4 111.9 429.2 110.6 430.9 110.3 C432.6 110.0 434.2 109.4 436.1 109.6 C438.1 109.8 440.5 111.2 442.6 111.6 C444.8 112.0 446.7 111.9 449.0 112.2 C451.3 112.5 454.7 113.0 456.5 113.3 C458.3 113.6 458.8 114.0 460.0 114.0 C461.2 114.0 462.6 113.0 463.9 113.3 C465.1 113.5 466.2 114.7 467.5 115.5 C468.8 116.3 469.7 117.5 471.7 118.3 C473.7 119.1 477.0 119.8 479.4 120.4 C481.8 121.1 484.2 122.3 485.9 122.2 C487.6 122.1 488.6 120.0 489.8 119.8 C491.0 119.6 491.9 120.2 493.0 121.0 C494.1 121.8 495.2 123.9 496.3 124.3 C497.4 124.7 498.6 124.0 499.7 123.5 C500.8 123.0 501.6 121.5 502.7 121.3 C503.8 121.0 504.7 121.8 506.0 122.0 C507.3 122.2 508.7 122.4 510.5 122.4 C512.3 122.4 514.6 122.1 516.7 122.2 C518.8 122.3 521.4 122.9 523.0 123.0 C524.6 123.1 525.1 123.3 526.1 123.0 C527.1 122.7 528.1 122.3 529.2 121.2 C530.4 120.1 532.4 117.3 533.0 116.5" fill="none" stroke="#f01a1a" stroke-width="1.50" stroke-linejoin="round" stroke-linecap="round" clip-path="url(#cb)"/>
<rect x="125.5" y="213.5" width="323.9" height="128.8" fill="none" stroke="#d4d4d4" stroke-width="1.1"/>
<line x1="125.5" y1="221.5" x2="449.4" y2="221.5" stroke="#d0d0d0" stroke-width="1" stroke-dasharray="1.8 1.2"/>
<line x1="125.5" y1="245.7" x2="449.4" y2="245.7" stroke="#d0d0d0" stroke-width="1" stroke-dasharray="1.8 1.2"/>
<line x1="125.5" y1="269.8" x2="449.4" y2="269.8" stroke="#d0d0d0" stroke-width="1" stroke-dasharray="1.8 1.2"/>
<line x1="125.5" y1="294.0" x2="449.4" y2="294.0" stroke="#d0d0d0" stroke-width="1" stroke-dasharray="1.8 1.2"/>
<line x1="125.5" y1="318.1" x2="449.4" y2="318.1" stroke="#d0d0d0" stroke-width="1" stroke-dasharray="1.8 1.2"/>
<line x1="123.9" y1="221.5" x2="125.5" y2="221.5" stroke="#cfcfcf" stroke-width="1"/>
<text x="110.3" y="224.2" font-family="Liberation Sans, sans-serif" font-size="6.80" textLength="8.1" lengthAdjust="spacingAndGlyphs" fill="#222" stroke="#222" stroke-width="0.20">5.9</text>
<line x1="123.9" y1="245.7" x2="125.5" y2="245.7" stroke="#cfcfcf" stroke-width="1"/>
<text x="110.3" y="248.4" font-family="Liberation Sans, sans-serif" font-size="6.80" textLength="8.1" lengthAdjust="spacingAndGlyphs" fill="#222" stroke="#222" stroke-width="0.20">5.6</text>
<line x1="123.9" y1="269.8" x2="125.5" y2="269.8" stroke="#cfcfcf" stroke-width="1"/>
<text x="110.3" y="272.6" font-family="Liberation Sans, sans-serif" font-size="6.80" textLength="8.1" lengthAdjust="spacingAndGlyphs" fill="#222" stroke="#222" stroke-width="0.20">5.3</text>
<line x1="123.9" y1="294.0" x2="125.5" y2="294.0" stroke="#cfcfcf" stroke-width="1"/>
<text x="110.3" y="296.7" font-family="Liberation Sans, sans-serif" font-size="6.80" textLength="8.1" lengthAdjust="spacingAndGlyphs" fill="#222" stroke="#222" stroke-width="0.20">5.0</text>
<line x1="123.9" y1="318.1" x2="125.5" y2="318.1" stroke="#cfcfcf" stroke-width="1"/>
<text x="110.3" y="320.9" font-family="Liberation Sans, sans-serif" font-size="6.80" textLength="8.1" lengthAdjust="spacingAndGlyphs" fill="#222" stroke="#222" stroke-width="0.20">4.7</text>
<line x1="123.9" y1="342.3" x2="125.5" y2="342.3" stroke="#cfcfcf" stroke-width="1"/>
<text x="110.3" y="345.0" font-family="Liberation Sans, sans-serif" font-size="6.80" textLength="8.1" lengthAdjust="spacingAndGlyphs" fill="#222" stroke="#222" stroke-width="0.20">4.4</text>
<line x1="125.5" y1="342.3" x2="125.5" y2="344.3" stroke="#cfcfcf" stroke-width="1"/>
<text x="123.9" y="352.6" font-family="Liberation Sans, sans-serif" font-size="6.80" textLength="3.2" lengthAdjust="spacingAndGlyphs" fill="#222" stroke="#222" stroke-width="0.20">0</text>
<line x1="157.9" y1="342.3" x2="157.9" y2="344.3" stroke="#cfcfcf" stroke-width="1"/>
<text x="154.7" y="352.6" font-family="Liberation Sans, sans-serif" font-size="6.80" textLength="6.4" lengthAdjust="spacingAndGlyphs" fill="#222" stroke="#222" stroke-width="0.20">20</text>
<line x1="190.3" y1="342.3" x2="190.3" y2="344.3" stroke="#cfcfcf" stroke-width="1"/>
<text x="187.1" y="352.6" font-family="Liberation Sans, sans-serif" font-size="6.80" textLength="6.4" lengthAdjust="spacingAndGlyphs" fill="#222" stroke="#222" stroke-width="0.20">40</text>
<line x1="222.8" y1="342.3" x2="222.8" y2="344.3" stroke="#cfcfcf" stroke-width="1"/>
<text x="219.6" y="352.6" font-family="Liberation Sans, sans-serif" font-size="6.80" textLength="6.4" lengthAdjust="spacingAndGlyphs" fill="#222" stroke="#222" stroke-width="0.20">60</text>
<line x1="255.2" y1="342.3" x2="255.2" y2="344.3" stroke="#cfcfcf" stroke-width="1"/>
<text x="252.0" y="352.6" font-family="Liberation Sans, sans-serif" font-size="6.80" textLength="6.4" lengthAdjust="spacingAndGlyphs" fill="#222" stroke="#222" stroke-width="0.20">80</text>
<line x1="287.6" y1="342.3" x2="287.6" y2="344.3" stroke="#cfcfcf" stroke-width="1"/>
<text x="282.8" y="352.6" font-family="Liberation Sans, sans-serif" font-size="6.80" textLength="9.6" lengthAdjust="spacingAndGlyphs" fill="#222" stroke="#222" stroke-width="0.20">100</text>
<line x1="320.0" y1="342.3" x2="320.0" y2="344.3" stroke="#cfcfcf" stroke-width="1"/>
<text x="315.2" y="352.6" font-family="Liberation Sans, sans-serif" font-size="6.80" textLength="9.6" lengthAdjust="spacingAndGlyphs" fill="#222" stroke="#222" stroke-width="0.20">120</text>
<line x1="352.4" y1="342.3" x2="352.4" y2="344.3" stroke="#cfcfcf" stroke-width="1"/>
<text x="347.6" y="352.6" font-family="Liberation Sans, sans-serif" font-size="6.80" textLength="9.6" lengthAdjust="spacingAndGlyphs" fill="#222" stroke="#222" stroke-width="0.20">140</text>
<line x1="384.9" y1="342.3" x2="384.9" y2="344.3" stroke="#cfcfcf" stroke-width="1"/>
<text x="380.1" y="352.6" font-family="Liberation Sans, sans-serif" font-size="6.80" textLength="9.6" lengthAdjust="spacingAndGlyphs" fill="#222" stroke="#222" stroke-width="0.20">160</text>
<line x1="417.3" y1="342.3" x2="417.3" y2="344.3" stroke="#cfcfcf" stroke-width="1"/>
<text x="412.5" y="352.6" font-family="Liberation Sans, sans-serif" font-size="6.80" textLength="9.6" lengthAdjust="spacingAndGlyphs" fill="#222" stroke="#222" stroke-width="0.20">180</text>
<line x1="449.7" y1="342.3" x2="449.7" y2="344.3" stroke="#cfcfcf" stroke-width="1"/>
<text x="444.9" y="352.6" font-family="Liberation Sans, sans-serif" font-size="6.80" textLength="9.6" lengthAdjust="spacingAndGlyphs" fill="#222" stroke="#222" stroke-width="0.20">200</text>
<line x1="125.5" y1="213.5" x2="125.5" y2="342.3" stroke="#cfcfcf" stroke-width="1.5"/>
<line x1="125.5" y1="342.3" x2="449.4" y2="342.3" stroke="#cfcfcf" stroke-width="1.5"/>
<text x="272.0" y="362.0" font-family="Liberation Serif, serif" font-size="7.18" font-weight="bold" textLength="30.7" lengthAdjust="spacingAndGlyphs" fill="#111" stroke="#111" stroke-width="0.25">Length (m)</text>
<text transform="translate(103.6 297.8) rotate(-90)" x="0" y="0" font-family="Liberation Serif, serif" font-size="6.50" font-weight="bold" textLength="37.4" lengthAdjust="spacingAndGlyphs" fill="#111" stroke="#111" stroke-width="0.20">Elevation (m)</text>
<rect x="135.2" y="216.5" width="27" height="13" fill="#fff"/>
<text x="136.0" y="226.9" font-family="Liberation Serif, serif" font-size="9.30" font-weight="bold" textLength="25.3" lengthAdjust="spacingAndGlyphs" fill="#0d0d0d" stroke="#0d0d0d" stroke-width="0.25">(c) 2m</text>
<defs><clipPath id="cc"><rect x="125.5" y="213.5" width="323.9" height="129.8"/></clipPath></defs>
<path d="M125.6 292.3 L126.5 291.7 L127.8 294.9 L128.8 293.3 L129.8 295.5 L130.8 295.0 L131.7 298.1 L132.7 297.2 L133.7 294.2 L134.6 288.6 L135.6 290.4 L136.6 289.2 L137.5 288.4 L138.8 291.7 L140.1 298.1 L141.4 295.5 L142.4 291.6 L143.3 294.9 L144.3 297.3 L145.3 296.2 L146.6 297.2 L147.9 297.5 L149.2 299.0 L150.5 296.2 L151.8 296.3 L153.1 298.1 L154.4 295.5 L155.7 297.4 L157.0 298.1 L157.9 296.3 L158.9 295.5 L159.9 296.9 L160.9 300.7 L162.2 299.0 L163.5 296.8 L164.8 296.1 L166.0 299.4 L167.3 295.5 L168.6 291.7 L170.0 292.5 L170.9 295.2 L171.9 299.0 L173.2 298.5 L174.5 295.7 L175.8 295.1 L177.1 294.4 L178.4 293.1 L179.7 293.1 L180.6 299.2 L181.6 298.3 L182.6 299.5 L183.5 300.5 L184.5 297.8 L185.5 297.0 L186.4 298.8 L187.4 300.0 L188.4 297.9 L189.5 297.5 L190.5 298.6 L191.5 301.0 L192.5 298.9 L193.5 298.0 L194.6 300.9 L195.6 306.4 L196.5 305.4 L197.8 303.2 L199.1 300.9 L200.4 299.6 L201.7 297.7 L203.0 302.3 L204.3 304.8 L205.6 305.1 L206.9 299.0 L207.9 297.0 L208.8 295.7 L210.1 294.4 L211.4 300.9 L212.7 304.8 L214.0 298.3 L215.3 295.1 L216.6 293.9 L217.6 303.7 L218.5 305.6 L219.5 298.4 L220.5 295.8 L221.4 297.5 L222.4 300.4 L223.4 299.2 L224.4 295.8 L225.7 300.5 L227.0 297.8 L227.9 298.2 L228.9 301.7 L229.9 294.9 L230.8 295.8 L232.1 298.5 L233.4 299.1 L235.1 300.2 L236.7 303.0 L237.6 300.1 L238.6 298.4 L239.9 301.7 L241.2 303.6 L242.1 302.4 L243.1 300.4 L244.4 301.8 L245.7 302.3 L247.0 300.7 L248.3 300.4 L249.4 303.3 L250.5 302.0 L251.7 304.9 L252.9 303.0 L253.9 302.3 L255.0 301.5 L256.0 301.8 L257.0 303.5 L258.1 303.8 L259.3 301.7 L260.6 305.3 L261.9 303.3 L262.9 305.4 L263.9 305.9 L265.2 299.4 L266.5 308.5 L268.0 305.0 L269.2 303.8 L270.4 305.9 L271.7 303.9 L273.0 303.3 L274.2 307.6 L275.5 308.5 L276.8 308.6 L278.1 309.1 L279.3 306.5 L280.5 305.0 L281.9 307.7 L283.3 309.8 L284.6 307.8 L285.9 305.9 L286.9 307.2 L287.8 308.5 L289.5 302.8 L291.1 303.3 L292.1 307.7 L293.0 306.6 L293.9 302.0 L294.7 296.8 L295.5 297.7 L296.3 301.4 L297.6 303.0 L298.9 301.4 L300.2 302.8 L301.5 303.3 L302.8 303.0 L304.0 302.7 L305.0 303.8 L305.9 307.4 L306.9 307.7 L307.9 309.0 L308.9 303.1 L309.9 303.3 L310.8 301.8 L312.1 307.7 L313.1 309.2 L314.1 305.7 L315.4 311.1 L316.7 309.6 L317.6 306.4 L318.6 306.4 L319.6 309.8 L320.5 314.8 L321.5 313.1 L322.5 309.0 L323.8 317.4 L325.1 310.9 L326.4 307.7 L327.4 308.5 L328.3 314.8 L329.6 313.7 L330.9 313.5 L332.2 314.0 L333.5 310.3 L334.8 314.2 L336.1 314.8 L337.4 314.4 L338.7 312.2 L340.0 310.5 L341.3 314.8 L342.2 317.0 L343.2 311.6 L344.2 315.4 L345.2 317.4 L346.1 316.0 L347.1 312.2 L348.1 315.6 L349.0 317.4 L350.5 313.3 L351.9 322.4 L352.9 315.8 L353.9 314.6 L354.9 314.9 L355.8 319.8 L356.8 315.9 L357.8 315.9 L358.8 320.3 L359.7 318.5 L360.6 316.2 L361.5 316.5 L362.6 317.8 L363.6 319.8 L365.2 317.4 L366.8 315.9 L368.1 326.3 L369.1 322.7 L370.1 317.2 L371.1 321.9 L372.0 325.0 L373.0 320.9 L374.0 315.9 L374.9 317.8 L375.9 323.7 L377.2 316.7 L378.5 319.8 L379.8 321.4 L381.1 322.4 L382.1 321.5 L383.0 319.8 L383.9 327.6 L384.7 331.5 L385.8 328.7 L386.9 326.3 L388.2 323.4 L389.5 322.4 L390.5 324.4 L391.5 325.0 L392.8 320.2 L394.0 320.4 L395.0 321.3 L396.0 325.6 L396.9 321.8 L397.8 321.3 L398.9 323.9 L400.0 325.6 L401.1 326.4 L402.1 320.6 L403.2 319.7 L404.3 316.4 L405.4 321.4 L406.4 322.8 L407.4 328.1 L408.5 332.7 L409.6 330.3 L410.7 327.0 L411.8 324.5 L412.8 323.5 L413.9 324.1 L414.9 325.6 L416.4 323.2 L417.8 328.5 L418.9 324.4 L419.9 324.2 L421.0 325.7 L422.1 331.3 L423.1 328.4 L424.2 322.8 L425.2 321.7 L426.3 318.5 L427.4 319.6 L428.5 317.1 L429.6 319.9 L430.6 317.8 L431.6 316.6 L432.7 316.4 L433.8 318.1 L434.9 316.4 L436.3 314.2 L437.7 315.6" fill="none" stroke="#222" stroke-width="1.30" stroke-linejoin="round" stroke-linecap="round" clip-path="url(#cc)"/>
<path d="M125.6 295.5 C126.3 296.1 128.2 298.8 129.8 298.8 C131.4 298.8 133.5 296.1 135.0 295.5 C136.5 294.9 137.7 295.3 138.8 295.5 C139.9 295.7 140.5 296.1 141.4 296.8 C142.3 297.6 143.1 300.0 144.0 300.0 C144.9 300.0 145.1 296.9 146.6 296.8 C148.1 296.7 150.7 299.2 153.1 299.4 C155.5 299.6 159.0 297.7 160.9 298.1 C162.8 298.5 163.7 300.7 164.7 302.0 C165.7 303.3 166.0 305.6 166.7 305.9 C167.3 306.1 168.0 305.6 168.6 303.5 C169.2 301.4 169.4 294.7 170.2 293.5 C171.0 292.3 171.8 295.9 173.2 296.4 C174.6 296.9 177.1 295.7 178.4 296.4 C179.7 297.1 180.2 298.7 181.0 300.5 C181.8 302.3 182.8 306.4 183.5 307.0 C184.2 307.6 184.8 305.4 185.5 304.0 C186.2 302.6 186.2 299.2 187.4 298.3 C188.6 297.4 191.2 297.6 192.6 298.5 C194.0 299.4 194.9 302.8 195.8 304.0 C196.7 305.2 197.0 305.8 197.8 305.5 C198.6 305.2 199.3 303.3 200.4 302.5 C201.5 301.7 203.0 301.4 204.3 300.9 C205.6 300.4 206.9 299.9 208.2 299.6 C209.5 299.3 210.9 299.9 212.0 299.0 C213.1 298.1 213.8 295.0 214.5 294.0 C215.2 293.0 215.3 292.8 215.9 293.0 C216.5 293.2 217.1 294.1 217.9 295.5 C218.7 296.9 219.8 299.6 220.5 301.7 C221.2 303.8 221.8 305.5 222.4 308.0 C223.0 310.5 223.8 313.9 224.2 316.5 C224.6 319.1 224.8 326.2 225.1 323.5 C225.4 320.8 225.9 307.1 226.3 300.0 C226.7 292.9 226.9 287.7 227.3 281.0 C227.7 274.3 228.1 266.9 228.5 260.0 C228.9 253.1 229.5 239.4 229.9 239.4 C230.3 239.4 230.7 253.1 231.0 260.0 C231.3 266.9 231.5 275.7 231.8 281.0 C232.1 286.3 232.3 288.5 232.6 292.0 C232.9 295.5 233.2 299.3 233.6 302.0 C233.9 304.7 234.2 307.9 234.7 308.2 C235.2 308.5 235.7 304.6 236.5 304.0 C237.3 303.4 238.4 303.9 239.3 304.3 C240.2 304.7 241.1 306.0 241.8 306.5 C242.5 307.0 242.9 307.8 243.5 307.5 C244.1 307.2 244.5 306.1 245.1 305.0 C245.7 303.9 246.1 301.6 247.0 301.0 C247.9 300.4 249.3 301.3 250.3 301.7 C251.3 302.1 251.8 303.4 252.9 303.6 C254.0 303.8 255.8 303.1 257.0 303.0 C258.2 302.9 258.9 303.1 260.0 303.3 C261.1 303.6 262.8 303.7 263.9 304.5 C265.0 305.3 265.5 306.9 266.5 308.0 C267.5 309.1 268.8 310.9 269.7 311.1 C270.6 311.3 271.4 310.0 272.0 309.0 C272.6 308.0 273.0 305.6 273.6 305.3 C274.2 305.0 274.9 307.0 275.5 307.2 C276.1 307.4 276.4 307.3 277.0 306.5 C277.6 305.7 278.7 302.9 279.4 302.5 C280.1 302.1 280.8 303.1 281.4 304.0 C282.0 304.9 282.6 306.9 283.3 307.8 C284.1 308.7 284.8 309.6 285.9 309.1 C287.0 308.6 288.7 305.8 289.8 304.6 C290.9 303.4 291.5 302.3 292.4 302.0 C293.3 301.7 293.9 302.6 295.0 302.7 C296.1 302.8 297.6 301.9 298.9 302.7 C300.2 303.4 301.4 305.6 302.7 307.2 C304.0 308.8 305.4 311.8 306.6 312.0 C307.9 312.2 308.7 309.0 310.2 308.3 C311.7 307.6 313.9 308.1 315.4 307.7 C316.9 307.3 318.2 304.5 319.2 305.7 C320.2 306.9 320.6 312.4 321.2 315.0 C321.8 317.6 322.1 319.7 322.5 321.0 C322.9 322.3 323.4 323.5 323.8 323.0 C324.2 322.5 324.6 320.2 325.1 318.0 C325.6 315.8 326.5 311.3 327.0 309.6 C327.5 307.9 327.8 307.3 328.3 307.7 C328.9 308.1 329.6 310.5 330.3 312.2 C331.1 313.9 331.8 316.1 332.8 318.0 C333.8 319.9 335.2 323.6 336.1 323.9 C337.0 324.2 337.8 321.7 338.4 320.0 C339.0 318.3 339.4 314.3 340.0 313.5 C340.6 312.7 341.2 313.8 341.8 315.0 C342.4 316.2 342.8 318.5 343.3 321.0 C343.8 323.5 344.4 327.4 345.0 330.0 C345.6 332.6 346.2 336.5 346.8 336.5 C347.4 336.5 348.0 332.8 348.5 330.0 C349.0 327.2 349.6 322.8 350.0 320.0 C350.4 317.2 350.7 312.9 351.1 313.5 C351.5 314.1 352.0 321.9 352.6 323.7 C353.2 325.5 354.1 324.4 355.0 324.5 C355.9 324.6 356.9 324.9 357.8 324.5 C358.7 324.1 359.5 323.8 360.4 322.4 C361.3 321.0 362.4 317.5 363.0 315.9 C363.6 314.3 363.7 311.6 364.2 313.0 C364.7 314.4 365.4 321.5 366.2 324.0 C367.0 326.5 368.1 326.8 368.8 328.0 C369.5 329.2 369.6 331.3 370.1 331.5 C370.6 331.7 371.2 329.8 372.0 329.0 C372.8 328.2 373.6 327.6 374.6 327.0 C375.6 326.4 376.7 325.9 377.8 325.6 C378.9 325.3 380.0 324.6 381.1 325.0 C382.2 325.4 383.2 327.9 384.3 328.0 C385.4 328.1 386.4 325.8 387.6 325.6 C388.8 325.4 390.5 326.3 391.5 327.0 C392.5 327.7 392.9 329.0 393.4 330.0 C393.9 331.0 394.2 333.3 394.7 333.0 C395.2 332.7 395.8 329.2 396.6 328.0 C397.4 326.8 398.4 325.7 399.3 325.6 C400.2 325.6 401.2 327.0 402.1 327.7 C403.1 328.4 404.2 328.7 405.0 329.9 C405.8 331.1 406.6 333.8 407.1 335.0 C407.6 336.2 407.5 337.7 407.8 337.0 C408.1 336.3 408.6 332.9 409.2 331.0 C409.8 329.1 410.7 326.6 411.4 325.6 C412.1 324.6 412.8 324.3 413.5 324.9 C414.2 325.5 415.0 327.6 415.7 329.0 C416.4 330.4 417.3 332.7 417.8 333.5 C418.3 334.3 418.0 334.3 418.5 334.0 C419.0 333.7 419.9 332.5 420.6 331.5 C421.3 330.5 422.1 330.1 422.8 328.0 C423.5 325.9 424.3 320.2 424.9 319.0 C425.5 317.8 425.7 319.8 426.3 320.5 C426.9 321.2 427.8 322.8 428.5 323.5 C429.2 324.2 429.8 325.3 430.6 325.0 C431.4 324.7 432.6 323.0 433.5 321.8 C434.4 320.6 435.6 318.6 436.3 317.8 C437.0 317.0 437.5 317.2 437.7 317.1" fill="none" stroke="#3fa33a" stroke-width="1.30" stroke-linejoin="round" stroke-linecap="round" clip-path="url(#cc)"/>
<path d="M125.6 294.9 C126.3 295.5 128.2 298.7 129.8 298.8 C131.4 298.9 133.5 296.1 135.0 295.5 C136.5 294.9 137.7 295.3 138.8 295.5 C139.9 295.7 140.5 295.9 141.4 296.8 C142.3 297.7 143.1 300.7 144.0 300.7 C144.9 300.7 145.1 297.0 146.6 296.8 C148.1 296.6 150.7 299.2 153.1 299.4 C155.5 299.6 159.0 297.3 160.9 298.1 C162.8 298.9 163.7 302.3 164.7 304.0 C165.7 305.7 166.4 308.4 167.1 308.5 C167.8 308.6 168.1 307.2 168.6 304.6 C169.1 302.0 169.4 294.5 170.2 293.1 C171.0 291.7 171.8 295.8 173.2 296.4 C174.6 296.9 177.1 295.6 178.4 296.4 C179.7 297.1 180.2 298.8 181.0 300.9 C181.8 302.9 182.8 308.0 183.5 308.7 C184.2 309.4 184.8 306.5 185.5 304.8 C186.2 303.1 186.2 299.4 187.4 298.3 C188.6 297.2 191.2 297.4 192.6 298.5 C194.0 299.6 194.9 303.4 195.8 304.8 C196.7 306.2 197.0 307.0 197.8 306.7 C198.6 306.4 199.3 303.8 200.4 302.8 C201.5 301.8 203.0 301.4 204.3 300.9 C205.6 300.4 206.9 299.9 208.2 299.6 C209.5 299.3 210.9 300.0 212.0 299.0 C213.1 298.0 213.8 294.6 214.5 293.5 C215.2 292.4 215.3 292.3 215.9 292.6 C216.5 292.9 217.1 293.7 217.9 295.2 C218.7 296.7 219.8 299.6 220.5 301.7 C221.2 303.8 221.8 305.4 222.4 307.5 C223.0 309.6 223.7 312.0 224.2 314.0 C224.7 316.0 224.9 321.8 225.3 319.5 C225.7 317.2 226.2 306.4 226.5 300.0 C226.8 293.6 227.0 287.7 227.3 281.0 C227.6 274.3 227.8 267.6 228.2 260.0 C228.6 252.4 229.2 235.5 229.6 235.5 C230.0 235.5 230.2 252.4 230.5 260.0 C230.8 267.6 231.0 276.4 231.3 281.0 C231.6 285.6 231.8 284.8 232.1 287.4 C232.4 290.0 232.8 294.1 233.4 296.5 C234.1 298.9 235.0 300.4 236.0 301.7 C237.0 303.0 238.3 303.2 239.3 304.3 C240.3 305.4 241.1 307.2 241.8 308.2 C242.5 309.2 242.9 310.5 243.5 310.1 C244.1 309.7 244.5 307.1 245.1 305.6 C245.7 304.1 246.1 301.6 247.0 301.0 C247.9 300.4 249.3 301.3 250.3 301.7 C251.3 302.1 251.8 303.4 252.9 303.6 C254.0 303.8 255.8 303.1 257.0 303.0 C258.2 302.9 258.9 303.1 260.0 303.3 C261.1 303.6 262.8 303.9 263.9 304.5 C265.0 305.1 265.6 306.2 266.5 307.2 C267.4 308.2 268.2 310.2 269.1 310.4 C270.0 310.6 270.9 309.4 271.7 308.5 C272.4 307.6 273.0 305.5 273.6 305.3 C274.2 305.1 274.9 307.0 275.5 307.2 C276.1 307.4 276.4 307.4 277.0 306.5 C277.6 305.6 278.7 302.4 279.4 302.0 C280.1 301.6 280.8 303.0 281.4 304.0 C282.0 305.0 282.6 306.9 283.3 307.8 C284.1 308.7 284.8 309.6 285.9 309.1 C287.0 308.6 288.7 305.8 289.8 304.6 C290.9 303.4 291.5 302.3 292.4 302.0 C293.3 301.7 293.9 302.6 295.0 302.7 C296.1 302.8 297.6 301.9 298.9 302.7 C300.2 303.4 301.4 305.5 302.7 307.2 C304.0 308.9 305.4 312.8 306.6 313.0 C307.9 313.2 308.7 309.2 310.2 308.3 C311.7 307.4 313.9 308.1 315.4 307.7 C316.9 307.3 318.2 304.1 319.2 305.7 C320.2 307.3 320.6 313.9 321.2 317.4 C321.8 320.9 322.1 324.4 322.5 326.5 C322.9 328.6 323.4 330.1 323.8 329.7 C324.2 329.3 324.6 327.2 325.1 323.9 C325.6 320.5 326.5 312.3 327.0 309.6 C327.5 306.9 327.8 307.3 328.3 307.7 C328.9 308.1 329.6 310.1 330.3 312.2 C331.1 314.2 332.0 317.8 332.8 320.0 C333.6 322.2 334.8 324.1 335.4 325.2 C336.0 326.3 336.2 327.4 336.7 326.5 C337.2 325.6 337.8 322.2 338.4 320.0 C338.9 317.8 339.4 314.3 340.0 313.5 C340.6 312.7 341.2 313.9 341.8 315.0 C342.4 316.1 342.9 317.5 343.5 320.0 C344.1 322.5 344.7 326.5 345.3 330.0 C345.9 333.5 346.4 340.5 347.0 341.0 C347.6 341.5 348.1 336.3 348.6 333.0 C349.1 329.7 349.6 324.2 350.0 321.0 C350.4 317.8 350.7 313.2 351.2 313.5 C351.7 313.8 352.3 320.9 352.9 322.6 C353.5 324.3 354.2 323.4 355.0 323.9 C355.8 324.4 356.9 325.9 357.8 325.6 C358.7 325.4 359.5 324.0 360.4 322.4 C361.3 320.8 362.4 317.5 363.0 315.9 C363.6 314.3 363.7 311.2 364.2 312.7 C364.7 314.2 365.4 321.9 366.2 325.0 C367.0 328.1 368.1 329.8 368.8 331.5 C369.5 333.2 369.6 335.3 370.1 335.3 C370.6 335.3 371.2 332.7 372.0 331.5 C372.8 330.3 373.6 329.2 374.6 328.2 C375.6 327.2 376.7 326.1 377.8 325.6 C378.9 325.1 380.0 324.4 381.1 325.0 C382.2 325.6 383.2 328.8 384.3 328.9 C385.4 329.0 386.4 325.8 387.6 325.6 C388.8 325.4 390.5 326.4 391.5 327.6 C392.5 328.8 392.9 331.3 393.4 332.7 C393.9 334.1 394.2 336.6 394.7 336.0 C395.2 335.4 395.8 330.6 396.6 328.9 C397.4 327.2 398.4 325.8 399.3 325.6 C400.2 325.4 401.2 327.0 402.1 327.7 C403.1 328.4 404.2 328.3 405.0 329.9 C405.8 331.4 406.6 335.3 407.1 337.0 C407.6 338.7 407.8 340.6 408.1 339.9 C408.5 339.2 408.6 335.1 409.2 332.7 C409.8 330.3 410.7 326.9 411.4 325.6 C412.1 324.3 412.8 324.2 413.5 324.9 C414.2 325.6 415.0 328.1 415.7 329.9 C416.4 331.7 417.3 334.5 417.8 335.6 C418.3 336.7 418.0 336.7 418.5 336.3 C419.0 335.9 419.9 334.6 420.6 333.4 C421.3 332.2 422.1 331.7 422.8 329.2 C423.5 326.7 424.3 320.1 424.9 318.5 C425.5 316.9 425.7 319.1 426.3 319.9 C426.9 320.7 427.8 322.6 428.5 323.5 C429.2 324.4 429.8 325.8 430.6 325.6 C431.4 325.4 432.6 323.4 433.5 322.1 C434.4 320.8 435.6 318.6 436.3 317.8 C437.0 317.0 437.5 317.2 437.7 317.1" fill="none" stroke="#1f9fd8" stroke-width="1.30" stroke-linejoin="round" stroke-linecap="round" clip-path="url(#cc)"/>
<path d="M125.6 294.2 C126.1 295.1 127.4 298.5 128.5 299.4 C129.6 300.3 131.3 300.6 132.4 299.4 C133.5 298.2 134.2 293.7 135.0 292.3 C135.8 290.9 136.3 290.7 136.9 291.0 C137.5 291.3 137.6 292.9 138.8 294.2 C140.0 295.5 141.6 297.6 144.0 298.8 C146.4 300.0 150.3 301.5 153.1 301.4 C155.9 301.3 158.8 297.8 160.9 298.1 C163.1 298.4 164.8 302.5 166.0 303.3 C167.2 304.1 167.4 304.8 168.0 302.7 C168.6 300.6 168.8 291.9 169.3 290.5 C169.8 289.1 170.5 293.0 171.2 294.0 C171.8 295.0 172.0 296.0 173.2 296.4 C174.4 296.8 177.1 295.8 178.4 296.4 C179.7 297.0 180.2 298.7 181.0 300.3 C181.8 301.9 182.8 305.7 183.5 306.1 C184.2 306.6 184.8 304.3 185.5 303.0 C186.2 301.7 186.2 299.0 187.4 298.3 C188.6 297.6 191.2 298.1 192.6 299.0 C194.0 299.9 194.8 302.5 195.8 303.5 C196.8 304.5 197.6 305.0 198.4 304.8 C199.2 304.6 199.4 303.1 200.4 302.5 C201.4 301.9 203.0 301.4 204.3 300.9 C205.6 300.4 206.9 300.0 208.2 299.6 C209.5 299.2 211.0 299.1 212.0 298.5 C213.0 297.9 213.0 296.1 214.0 295.8 C215.0 295.6 216.8 296.4 217.9 297.0 C219.0 297.6 219.6 298.9 220.5 299.5 C221.4 300.1 222.7 300.8 223.5 300.5 C224.3 300.2 225.1 300.6 225.6 298.0 C226.1 295.4 226.2 289.7 226.6 285.0 C226.9 280.3 227.4 276.5 227.7 270.0 C228.0 263.5 228.2 253.1 228.6 245.9 C229.0 238.8 229.5 227.1 229.9 227.1 C230.3 227.1 230.5 238.8 230.8 245.9 C231.1 253.1 231.3 263.5 231.6 270.0 C231.9 276.5 232.1 280.4 232.4 285.0 C232.7 289.6 232.8 295.4 233.4 297.8 C234.0 300.2 235.0 299.0 236.0 299.7 C237.0 300.4 238.3 301.2 239.3 302.0 C240.3 302.8 241.1 303.9 241.8 304.5 C242.5 305.1 242.9 305.6 243.5 305.5 C244.1 305.4 244.5 304.8 245.1 304.0 C245.7 303.2 246.1 301.4 247.0 301.0 C247.9 300.6 249.3 301.3 250.3 301.7 C251.3 302.1 251.8 303.4 252.9 303.6 C254.0 303.8 255.8 303.0 257.0 303.0 C258.2 303.0 258.9 303.6 260.0 303.8 C261.1 304.1 262.8 304.0 263.9 304.5 C265.0 305.0 265.6 306.2 266.5 307.0 C267.4 307.8 268.2 309.3 269.1 309.5 C270.0 309.7 270.9 308.7 271.7 308.0 C272.4 307.3 273.0 305.6 273.6 305.3 C274.2 305.1 274.9 306.6 275.5 306.5 C276.1 306.4 276.4 305.9 277.0 305.0 C277.6 304.1 278.7 301.6 279.4 301.4 C280.1 301.1 280.8 302.5 281.4 303.5 C282.0 304.5 282.6 306.6 283.3 307.5 C284.1 308.4 284.8 309.3 285.9 308.8 C287.0 308.3 288.7 305.7 289.8 304.6 C290.9 303.6 291.5 302.8 292.4 302.5 C293.3 302.2 293.9 302.7 295.0 302.7 C296.1 302.7 297.6 301.9 298.9 302.7 C300.2 303.4 301.4 305.6 302.7 307.2 C304.0 308.8 305.4 311.8 306.6 312.0 C307.9 312.2 308.7 309.0 310.2 308.3 C311.7 307.6 313.9 308.0 315.4 307.7 C316.9 307.4 318.2 305.6 319.2 306.5 C320.2 307.4 320.4 311.4 321.2 313.0 C322.0 314.6 323.1 316.2 323.8 316.0 C324.6 315.8 325.1 313.5 325.7 312.0 C326.3 310.5 327.0 307.2 327.7 307.0 C328.4 306.8 328.6 309.6 329.6 310.9 C330.6 312.2 332.2 314.3 333.5 314.8 C334.8 315.3 336.1 313.9 337.4 313.8 C338.7 313.7 339.8 313.8 341.3 314.1 C342.8 314.4 345.0 315.1 346.5 315.4 C348.0 315.7 349.2 315.3 350.3 316.1 C351.4 316.9 352.1 319.1 352.9 320.0 C353.7 320.9 354.2 321.4 355.2 321.5 C356.2 321.6 357.8 321.4 359.1 320.4 C360.4 319.4 362.1 316.5 363.0 315.3 C363.9 314.1 363.7 312.3 364.2 313.3 C364.7 314.3 365.4 318.8 366.2 321.1 C367.0 323.4 367.7 326.3 368.8 327.0 C369.9 327.7 371.3 326.1 372.7 325.5 C374.1 324.9 375.8 323.8 377.2 323.7 C378.6 323.6 379.9 324.5 381.1 325.0 C382.3 325.5 383.2 326.9 384.3 326.9 C385.4 326.9 386.4 325.1 387.6 325.0 C388.8 324.9 390.2 326.1 391.5 326.3 C392.8 326.5 394.2 326.5 395.3 326.0 C396.4 325.5 396.9 323.6 397.8 323.5 C398.7 323.4 399.5 325.1 400.7 325.6 C401.9 326.2 403.6 326.7 405.0 326.8 C406.4 326.9 407.8 326.1 409.2 326.0 C410.6 325.9 412.1 325.8 413.5 326.5 C414.9 327.2 416.7 329.5 417.8 330.0 C418.9 330.5 419.1 330.1 419.9 329.5 C420.7 328.9 422.0 327.8 422.8 326.3 C423.6 324.8 424.2 321.0 424.9 320.6 C425.6 320.2 426.2 323.6 427.1 324.2 C428.1 324.8 429.5 325.0 430.6 324.5 C431.7 324.0 432.6 322.1 433.5 321.0 C434.4 319.9 435.6 318.6 436.3 318.0 C437.0 317.4 437.5 317.6 437.7 317.5" fill="none" stroke="#f4822a" stroke-width="1.25" stroke-linejoin="round" stroke-linecap="round" clip-path="url(#cc)"/>
<path d="M125.6 296.8 C126.1 297.0 127.4 297.7 128.5 298.1 C129.6 298.5 131.1 299.8 132.4 299.4 C133.7 299.0 134.9 296.7 136.2 295.5 C137.5 294.3 139.0 292.2 140.1 292.3 C141.2 292.4 141.9 295.0 142.7 296.2 C143.5 297.4 143.8 299.3 144.7 299.4 C145.6 299.5 146.5 296.9 147.9 296.8 C149.3 296.7 151.4 298.7 153.1 298.8 C154.8 298.9 156.6 297.5 158.3 297.5 C160.0 297.5 162.1 298.3 163.5 298.8 C164.9 299.3 165.6 301.9 166.7 300.7 C167.8 299.5 169.0 292.2 169.9 291.6 C170.8 291.0 171.1 296.2 171.9 297.0 C172.7 297.8 173.4 296.6 174.5 296.4 C175.6 296.2 177.3 295.5 178.4 295.7 C179.5 295.9 180.0 296.4 181.0 297.7 C182.0 299.0 183.2 303.4 184.2 303.5 C185.2 303.6 186.1 299.4 186.8 298.3 C187.6 297.2 187.7 297.0 188.7 297.0 C189.7 297.0 191.3 297.8 192.6 298.3 C193.9 298.9 195.2 300.2 196.5 300.3 C197.8 300.4 199.1 299.0 200.4 299.0 C201.7 299.0 203.0 300.3 204.3 300.3 C205.6 300.3 206.9 299.6 208.2 299.0 C209.5 298.4 210.7 297.8 212.0 297.0 C213.3 296.2 214.9 294.3 215.9 294.4 C216.9 294.5 217.1 296.4 217.9 297.8 C218.7 299.2 219.6 301.5 220.5 303.0 C221.4 304.5 222.2 306.9 223.1 306.9 C224.0 306.9 224.8 304.3 225.7 303.0 C226.5 301.7 227.3 299.4 228.2 299.1 C229.0 298.8 229.8 301.3 230.8 301.0 C231.8 300.7 233.0 297.2 234.1 297.1 C235.2 297.0 236.1 299.5 237.3 300.4 C238.5 301.3 239.7 302.1 241.2 302.3 C242.7 302.5 245.1 301.4 246.4 301.7 C247.7 302.0 247.9 303.6 249.0 304.3 C250.1 305.1 251.6 306.1 252.9 306.2 C254.2 306.3 255.4 305.3 256.7 304.9 C258.0 304.5 259.4 304.1 260.6 304.0 C261.8 303.9 262.7 303.8 263.9 304.0 C265.1 304.2 266.5 305.0 267.8 305.3 C269.1 305.6 270.6 306.0 271.7 305.9 C272.8 305.8 273.3 304.5 274.2 304.6 C275.1 304.7 275.9 306.5 276.8 306.6 C277.7 306.7 278.5 305.2 279.4 305.3 C280.3 305.4 280.9 306.7 282.0 307.2 C283.1 307.7 284.8 308.4 285.9 308.5 C287.0 308.6 287.6 308.6 288.5 307.8 C289.4 307.1 290.2 304.4 291.1 304.0 C292.0 303.6 292.9 305.4 293.7 305.3 C294.4 305.2 294.7 303.6 295.6 303.3 C296.5 303.0 297.9 303.0 298.9 303.3 C299.9 303.6 300.6 304.2 301.5 305.3 C302.4 306.4 303.1 308.7 304.0 309.8 C304.9 310.9 305.5 311.7 306.6 311.7 C307.7 311.7 309.6 310.5 310.8 309.6 C312.1 308.7 312.9 306.4 314.1 306.4 C315.3 306.4 316.7 308.4 318.0 309.6 C319.3 310.8 320.8 312.2 321.8 313.5 C322.8 314.8 323.2 317.5 323.8 317.4 C324.4 317.3 325.1 314.5 325.7 312.8 C326.3 311.1 327.0 307.3 327.7 307.0 C328.4 306.7 328.6 309.6 329.6 310.9 C330.6 312.2 332.2 314.5 333.5 314.8 C334.8 315.1 336.1 312.9 337.4 312.8 C338.7 312.7 339.8 313.7 341.3 314.1 C342.8 314.5 345.0 315.1 346.5 315.4 C348.0 315.7 349.2 315.5 350.3 316.1 C351.4 316.7 352.1 318.2 352.9 319.0 C353.7 319.8 354.2 320.9 355.2 321.1 C356.2 321.3 357.8 321.4 359.1 320.4 C360.4 319.4 362.1 316.5 363.0 315.3 C363.9 314.1 363.7 312.3 364.2 313.3 C364.7 314.3 365.4 318.9 366.2 321.1 C367.0 323.3 367.7 325.7 368.8 326.3 C369.9 326.9 371.3 325.4 372.7 325.0 C374.1 324.6 375.8 323.7 377.2 323.7 C378.6 323.7 379.9 324.5 381.1 325.0 C382.3 325.5 383.2 326.9 384.3 326.9 C385.4 326.9 386.4 325.1 387.6 325.0 C388.8 324.9 390.2 326.3 391.5 326.3 C392.8 326.3 394.2 325.6 395.3 325.0 C396.4 324.4 396.9 322.7 397.8 322.8 C398.7 322.9 399.5 325.0 400.7 325.6 C401.9 326.2 403.6 326.3 405.0 326.3 C406.4 326.3 407.8 325.6 409.2 325.6 C410.6 325.6 412.1 325.8 413.5 326.3 C414.9 326.8 416.7 328.3 417.8 328.5 C418.9 328.7 419.1 328.1 419.9 327.7 C420.7 327.3 422.0 327.5 422.8 326.3 C423.6 325.1 424.2 321.0 424.9 320.6 C425.6 320.2 426.2 323.7 427.1 324.2 C428.1 324.7 429.5 324.1 430.6 323.5 C431.7 322.9 432.6 321.6 433.5 320.6 C434.4 319.7 435.6 318.3 436.3 317.8 C437.0 317.3 437.5 317.8 437.7 317.8" fill="none" stroke="#f01a1a" stroke-width="1.60" stroke-linejoin="round" stroke-linecap="round" clip-path="url(#cc)"/>
<line x1="132.0" y1="378.1" x2="153.4" y2="378.1" stroke="#3cb043" stroke-width="1.8"/>
<text x="155.0" y="380.6" font-family="Liberation Serif, serif" font-size="6.90" textLength="6.8" lengthAdjust="spacingAndGlyphs" fill="#111" stroke="#111" stroke-width="0.30">KI</text>
<line x1="184.8" y1="378.1" x2="206.2" y2="378.1" stroke="#2a9fd8" stroke-width="1.8"/>
<text x="208.3" y="380.6" font-family="Liberation Serif, serif" font-size="6.90" textLength="7.9" lengthAdjust="spacingAndGlyphs" fill="#111" stroke="#111" stroke-width="0.30">CC</text>
<line x1="239.8" y1="378.1" x2="261.0" y2="378.1" stroke="#f58220" stroke-width="1.8"/>
<text x="262.8" y="380.6" font-family="Liberation Serif, serif" font-size="6.90" textLength="6.7" lengthAdjust="spacingAndGlyphs" fill="#111" stroke="#111" stroke-width="0.30">BI</text>
<line x1="292.2" y1="378.1" x2="313.4" y2="378.1" stroke="#000" stroke-width="1.8"/>
<text x="315.3" y="380.6" font-family="Liberation Serif, serif" font-size="6.90" textLength="39.0" lengthAdjust="spacingAndGlyphs" fill="#111" stroke="#111" stroke-width="0.30">Reference data</text>
<line x1="376.9" y1="378.1" x2="398.6" y2="378.1" stroke="#ee1111" stroke-width="1.8"/>
<text x="400.3" y="380.6" font-family="Liberation Serif, serif" font-size="6.90" textLength="31.8" lengthAdjust="spacingAndGlyphs" fill="#111" stroke="#111" stroke-width="0.30">MSM-CNN</text>
</svg></body></html>
